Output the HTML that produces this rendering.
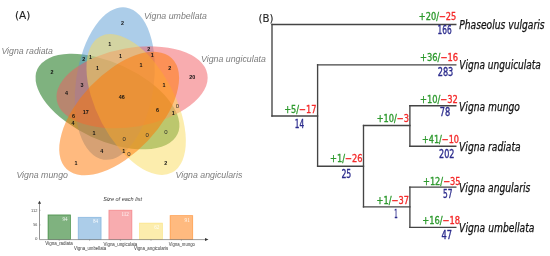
<!DOCTYPE html>
<html><head><meta charset="utf-8"><title>Venn and tree</title>
<style>
html,body{margin:0;padding:0;background:#fff;}
body{width:550px;height:256px;overflow:hidden;}
svg{display:block;}
</style></head><body>
<svg width="550" height="256" viewBox="0 0 550 256">
<rect width="550" height="256" fill="#fff"/>
<g id="venn">
<ellipse cx="107.47" cy="101.57" rx="77.22" ry="38.64" transform="rotate(204.86 107.47 101.57)" fill="rgb(0,102,0)" fill-opacity="0.5"/>
<ellipse cx="114.78" cy="83.52" rx="76.93" ry="38.89" transform="rotate(-81.71 114.78 83.52)" fill="rgb(90,155,212)" fill-opacity="0.5"/>
<ellipse cx="132.08" cy="87.31" rx="76.42" ry="39.45" transform="rotate(-9.87 132.08 87.31)" fill="rgb(241,90,96)" fill-opacity="0.5"/>
<ellipse cx="136.15" cy="104.51" rx="76.92" ry="38.85" transform="rotate(62.18 136.15 104.51)" fill="rgb(250,220,91)" fill-opacity="0.5"/>
<ellipse cx="119.14" cy="113.55" rx="76.37" ry="39.59" transform="rotate(133.53 119.14 113.55)" fill="rgb(255,117,0)" fill-opacity="0.5"/>
</g>
<g font-family="'Liberation Sans', Arial, sans-serif" font-weight="bold" font-size="5.4" fill="#111" text-anchor="middle">
<text x="122.5" y="24.5">2</text>
<text x="52.0" y="73.9">2</text>
<text x="192.2" y="79.2">20</text>
<text x="165.7" y="165.2">2</text>
<text x="75.9" y="165.0">1</text>
<text x="109.8" y="46.4">1</text>
<text x="83.8" y="61.3">2</text>
<text x="90.5" y="58.9">1</text>
<text x="120.5" y="57.5">1</text>
<text x="97.5" y="70.1">1</text>
<text x="148.7" y="51.2">2</text>
<text x="152.2" y="56.8">1</text>
<text x="141.1" y="67.2">1</text>
<text x="169.8" y="70.2">2</text>
<text x="82.0" y="86.5">3</text>
<text x="66.4" y="94.7">4</text>
<text x="121.7" y="99.2">46</text>
<text x="164.0" y="87.0">1</text>
<text x="177.3" y="107.9" font-weight="normal" font-size="6" fill="#2a2a2a">0</text>
<text x="157.5" y="111.8">6</text>
<text x="173.2" y="114.5">1</text>
<text x="85.7" y="113.6">17</text>
<text x="73.4" y="118.0">6</text>
<text x="72.9" y="125.1">4</text>
<text x="94.0" y="134.5">1</text>
<text x="124.2" y="141.0" font-weight="normal" font-size="6" fill="#2a2a2a">0</text>
<text x="147.2" y="136.7" font-weight="normal" font-size="6" fill="#2a2a2a">0</text>
<text x="101.7" y="153.4">4</text>
<text x="123.8" y="152.6">1</text>
<text x="129.0" y="155.8" font-weight="normal" font-size="6" fill="#2a2a2a">0</text>
<text x="165.8" y="133.9" font-weight="normal" font-size="6" fill="#2a2a2a">0</text>
</g>
<g font-family="'Liberation Sans', Arial, sans-serif" font-style="italic" font-size="9.8" fill="#7d7d7d">
<text x="1.4" y="54.0" textLength="51.5" lengthAdjust="spacingAndGlyphs">Vigna radiata</text>
<text x="143.9" y="18.6" textLength="63.0" lengthAdjust="spacingAndGlyphs">Vigna umbellata</text>
<text x="201.0" y="61.6" textLength="64.9" lengthAdjust="spacingAndGlyphs">Vigna ungiculata</text>
<text x="16.4" y="177.6" textLength="51.5" lengthAdjust="spacingAndGlyphs">Vigna mungo</text>
<text x="175.5" y="177.8" textLength="66.8" lengthAdjust="spacingAndGlyphs">Vigna angicularis</text>
</g>
<text x="15.0" y="19.0" font-family="'DejaVu Sans', Verdana, sans-serif" font-size="10" fill="#222" stroke="#222" stroke-width="0.1" textLength="15.4" lengthAdjust="spacingAndGlyphs">(A)</text>
<g id="bars">
<text x="103.2" y="201.0" font-family="'Liberation Sans', Arial, sans-serif" font-style="italic" font-size="5.9" fill="#3a3a3a" textLength="38.8" lengthAdjust="spacingAndGlyphs">Size of each list</text>
<rect x="48.0" y="214.9" width="22.5" height="24.5" fill="rgb(0,102,0)" fill-opacity="0.5" stroke="rgb(0,102,0)" stroke-opacity="0.55" stroke-width="0.8"/>
<text x="67.5" y="220.9" text-anchor="end" fill="#fff" fill-opacity="0.9" font-size="5.1">94</text>
<rect x="78.2" y="217.3" width="22.9" height="22.1" fill="rgb(90,155,212)" fill-opacity="0.5" stroke="rgb(90,155,212)" stroke-opacity="0.55" stroke-width="0.8"/>
<text x="98.1" y="223.3" text-anchor="end" fill="#fff" fill-opacity="0.9" font-size="5.1">84</text>
<rect x="108.9" y="210.2" width="23.0" height="29.2" fill="rgb(241,90,96)" fill-opacity="0.5" stroke="rgb(241,90,96)" stroke-opacity="0.55" stroke-width="0.8"/>
<text x="128.9" y="216.2" text-anchor="end" fill="#fff" fill-opacity="0.9" font-size="5.1">112</text>
<rect x="139.5" y="223.1" width="22.9" height="16.3" fill="rgb(250,220,91)" fill-opacity="0.5" stroke="rgb(250,220,91)" stroke-opacity="0.55" stroke-width="0.8"/>
<text x="159.4" y="229.1" text-anchor="end" fill="#fff" fill-opacity="0.9" font-size="5.1">62</text>
<rect x="170.1" y="215.6" width="22.6" height="23.8" fill="rgb(255,117,0)" fill-opacity="0.5" stroke="rgb(255,117,0)" stroke-opacity="0.55" stroke-width="0.8"/>
<text x="189.7" y="221.6" text-anchor="end" fill="#fff" fill-opacity="0.9" font-size="5.1">91</text>
<line x1="39.5" y1="203" x2="39.5" y2="239.6" stroke="#666" stroke-width="0.7"/>
<line x1="39.5" y1="239.6" x2="205.5" y2="239.6" stroke="#777" stroke-width="0.7"/>
<path d="M39.5 200.8 L37.9 203.8 L41.1 203.8 Z" fill="#333"/>
<path d="M208.5 239.6 L205 238.1 L205 241.1 Z" fill="#333"/>
<g stroke="#777" stroke-width="0.5">
<line x1="39.5" y1="210.3" x2="40.6" y2="210.3"/><line x1="39.5" y1="224.9" x2="40.6" y2="224.9"/><line x1="59.2" y1="239.6" x2="59.2" y2="240.8"/><line x1="89.6" y1="239.6" x2="89.6" y2="240.8"/><line x1="120.4" y1="239.6" x2="120.4" y2="240.8"/><line x1="151" y1="239.6" x2="151" y2="240.8"/><line x1="181.4" y1="239.6" x2="181.4" y2="240.8"/>
</g>
<g font-family="'Liberation Sans', Arial, sans-serif" font-size="4.4" fill="#444" text-anchor="end">
<text x="37.4" y="211.8" textLength="6.3" lengthAdjust="spacingAndGlyphs">112</text><text x="37.4" y="225.9" textLength="4.1" lengthAdjust="spacingAndGlyphs">56</text><text x="37.4" y="240.3">0</text>
</g>
<g font-family="'Liberation Sans', Arial, sans-serif" font-size="5.6" fill="#333">
<text x="45.3" y="245.4" textLength="27.5" lengthAdjust="spacingAndGlyphs">Vigna_radiata</text>
<text x="74.1" y="249.6" textLength="32.1" lengthAdjust="spacingAndGlyphs">Vigna_umbellata</text>
<text x="103.6" y="245.6" textLength="33.7" lengthAdjust="spacingAndGlyphs">Vigna_ungiculata</text>
<text x="133.9" y="249.9" textLength="34.3" lengthAdjust="spacingAndGlyphs">Vigna_angicularis</text>
<text x="168.7" y="245.6" textLength="26.2" lengthAdjust="spacingAndGlyphs">Vigna_mungo</text>
</g>
</g>
<g id="tree">
<text x="258.4" y="22.0" font-family="'DejaVu Sans', Verdana, sans-serif" font-size="10" fill="#222" stroke="#222" stroke-width="0.1" textLength="15.0" lengthAdjust="spacingAndGlyphs">(B)</text>
<g stroke="#444" stroke-width="1.35" stroke-linecap="square">
<line x1="272.0" y1="24.5" x2="455.8" y2="24.5"/>
<line x1="272.0" y1="24.5" x2="272.0" y2="116.0"/>
<line x1="272.0" y1="116.0" x2="317.6" y2="116.0"/>
<line x1="317.6" y1="64.8" x2="317.6" y2="166.2"/>
<line x1="317.6" y1="64.8" x2="455.8" y2="64.8"/>
<line x1="317.6" y1="166.2" x2="363.5" y2="166.2"/>
<line x1="363.5" y1="125.5" x2="363.5" y2="206.9"/>
<line x1="363.5" y1="125.5" x2="409.9" y2="125.5"/>
<line x1="409.9" y1="105.7" x2="409.9" y2="146.2"/>
<line x1="409.9" y1="105.7" x2="455.8" y2="105.7"/>
<line x1="409.9" y1="146.2" x2="455.8" y2="146.2"/>
<line x1="363.5" y1="206.9" x2="409.9" y2="206.9"/>
<line x1="409.9" y1="187.1" x2="409.9" y2="227.3"/>
<line x1="409.9" y1="187.1" x2="455.8" y2="187.1"/>
<line x1="409.9" y1="227.3" x2="455.8" y2="227.3"/>
</g>
<g font-family="'DejaVu Sans Condensed', 'DejaVu Sans', sans-serif" font-size="10.6" stroke-width="0.35">
<text x="418.8" y="19.9" textLength="37.5" lengthAdjust="spacingAndGlyphs"><tspan fill="#2f9a2f" stroke="#2f9a2f">+20/</tspan><tspan fill="#f42a2a" stroke="#f42a2a">−25</tspan></text>
<text x="420.0" y="60.7" textLength="38.0" lengthAdjust="spacingAndGlyphs"><tspan fill="#2f9a2f" stroke="#2f9a2f">+36/</tspan><tspan fill="#f42a2a" stroke="#f42a2a">−16</tspan></text>
<text x="420.0" y="102.8" textLength="37.8" lengthAdjust="spacingAndGlyphs"><tspan fill="#2f9a2f" stroke="#2f9a2f">+10/</tspan><tspan fill="#f42a2a" stroke="#f42a2a">−32</tspan></text>
<text x="376.7" y="122.1" textLength="32.3" lengthAdjust="spacingAndGlyphs"><tspan fill="#2f9a2f" stroke="#2f9a2f">+10/</tspan><tspan fill="#f42a2a" stroke="#f42a2a">−3</tspan></text>
<text x="421.9" y="142.7" textLength="37.1" lengthAdjust="spacingAndGlyphs"><tspan fill="#2f9a2f" stroke="#2f9a2f">+41/</tspan><tspan fill="#f42a2a" stroke="#f42a2a">−10</tspan></text>
<text x="284.2" y="112.9" textLength="32.2" lengthAdjust="spacingAndGlyphs"><tspan fill="#2f9a2f" stroke="#2f9a2f">+5/</tspan><tspan fill="#f42a2a" stroke="#f42a2a">−17</tspan></text>
<text x="330.0" y="162.0" textLength="32.5" lengthAdjust="spacingAndGlyphs"><tspan fill="#2f9a2f" stroke="#2f9a2f">+1/</tspan><tspan fill="#f42a2a" stroke="#f42a2a">−26</tspan></text>
<text x="376.6" y="204.4" textLength="32.4" lengthAdjust="spacingAndGlyphs"><tspan fill="#2f9a2f" stroke="#2f9a2f">+1/</tspan><tspan fill="#f42a2a" stroke="#f42a2a">−37</tspan></text>
<text x="423.0" y="184.5" textLength="37.5" lengthAdjust="spacingAndGlyphs"><tspan fill="#2f9a2f" stroke="#2f9a2f">+12/</tspan><tspan fill="#f42a2a" stroke="#f42a2a">−35</tspan></text>
<text x="422.2" y="223.9" textLength="37.8" lengthAdjust="spacingAndGlyphs"><tspan fill="#2f9a2f" stroke="#2f9a2f">+16/</tspan><tspan fill="#f42a2a" stroke="#f42a2a">−18</tspan></text>
</g>
<g font-family="'DejaVu Sans Condensed', 'DejaVu Sans', sans-serif" font-size="11.7" fill="#2a2a8c" stroke="#2a2a8c" stroke-width="0.35">
<text x="437.5" y="34.4" textLength="14.1" lengthAdjust="spacingAndGlyphs">166</text>
<text x="437.7" y="75.5" textLength="15.6" lengthAdjust="spacingAndGlyphs">283</text>
<text x="439.8" y="116.4" textLength="10.5" lengthAdjust="spacingAndGlyphs">78</text>
<text x="439.0" y="158.0" textLength="15.4" lengthAdjust="spacingAndGlyphs">202</text>
<text x="294.8" y="127.5" textLength="9.4" lengthAdjust="spacingAndGlyphs">14</text>
<text x="341.4" y="177.5" textLength="9.9" lengthAdjust="spacingAndGlyphs">25</text>
<text x="394.2" y="217.7" textLength="3.4" lengthAdjust="spacingAndGlyphs">1</text>
<text x="442.9" y="197.5" textLength="9.5" lengthAdjust="spacingAndGlyphs">57</text>
<text x="441.5" y="238.8" textLength="10.5" lengthAdjust="spacingAndGlyphs">47</text>
</g>
<g font-family="'DejaVu Sans Condensed', 'DejaVu Sans', sans-serif" font-style="oblique" font-size="12.2" fill="#111" stroke="#111" stroke-width="0.25">
<text x="459.2" y="28.7" textLength="85.4" lengthAdjust="spacingAndGlyphs">Phaseolus vulgaris</text>
<text x="459.3" y="69.0" textLength="81.6" lengthAdjust="spacingAndGlyphs">Vigna unguiculata</text>
<text x="459.1" y="110.5" textLength="60.8" lengthAdjust="spacingAndGlyphs">Vigna mungo</text>
<text x="459.1" y="150.8" textLength="61.6" lengthAdjust="spacingAndGlyphs">Vigna radiata</text>
<text x="459.1" y="191.9" textLength="71.2" lengthAdjust="spacingAndGlyphs">Vigna angularis</text>
<text x="459.1" y="232.4" textLength="75.3" lengthAdjust="spacingAndGlyphs">Vigna umbellata</text>
</g>
</g>
</svg>
</body></html>
